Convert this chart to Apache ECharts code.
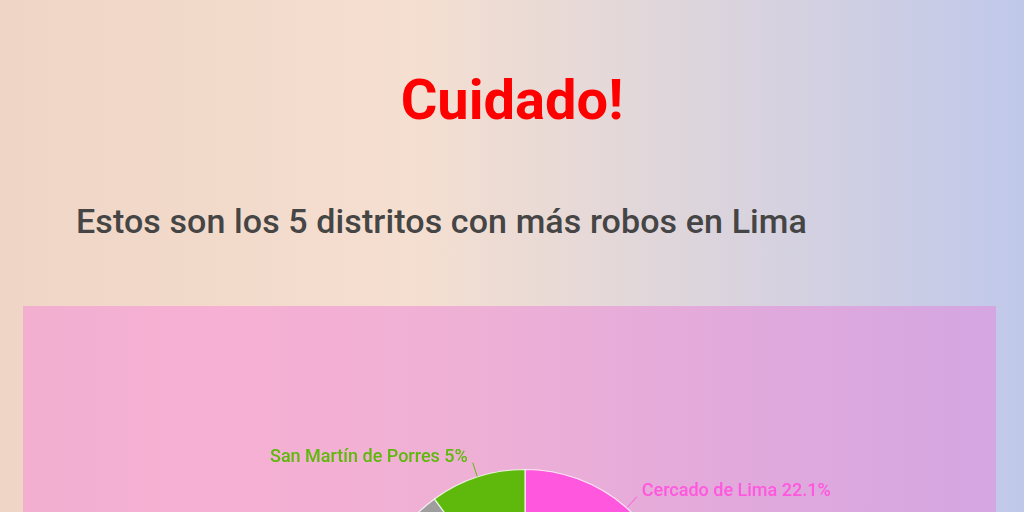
<!DOCTYPE html>
<html>
<head>
<meta charset="utf-8">
<script src="https://cdn.jsdelivr.net/npm/echarts@6/dist/echarts.min.js"></script>
<style>
  html, body { margin: 0; padding: 0; }
  body {
    width: 1024px;
    height: 820px;
    position: relative;
    overflow: hidden;
    font-family: Roboto, sans-serif;
    background: linear-gradient(90deg, #efd5c6 0%, #f5dfd0 40%, #ddd5dc 68%, #c0c8ea 100%);
  }
  h1 {
    position: absolute; left: 0; top: 64px; width: 1024px; margin: 0;
    text-align: center; color: #ff0000; font-size: 56px; font-weight: 700; line-height: 72px;
  }
  h2 {
    position: absolute; left: 76px; top: 198px; margin: 0;
    color: #454545; font-size: 34px; font-weight: 500; line-height: 46px; letter-spacing: 0.1px;
  }
  .chart-box {
    position: absolute; left: 23px; top: 306px; width: 973px; height: 500px;
    background: linear-gradient(90deg, #f2afd0 0%, #f6b0d3 20%, #efb0d5 45%, #e3aadb 70%, #d4a6e2 100%);
  }
  #pieChart { width: 973px; height: 500px; }
</style>
</head>
<body>
<h1>Cuidado!</h1>
<h2>Estos son los 5 distritos con más robos en Lima</h2>
<div class="chart-box"><div id="pieChart"></div></div>
<script>
const districts = ['Cercado de Lima', 'San Juan de Lurigancho', 'Ate', 'Comas', 'San Martín de Porres'];
const shareLabels = ['22.1%', '9.6%', '7.3%', '5.2%', '5%'];
const sliceValues = [23, 27, 25, 15, 10];
const sliceColors = ['#ff57dd', '#7a6cf0', '#ffb03a', '#9e9e9e', '#5fb90d'];

function renderRobosPie(el) {
  if (!el || !window.echarts) return null;
  const chart = echarts.init(el);
  chart.setOption({
    series: [{
      name: 'Robos',
      type: 'pie',
      radius: 154,
      center: [502, 317.5],
      startAngle: 90,
      data: districts.map((name, i) => ({
        name: name,
        value: sliceValues[i],
        itemStyle: { color: sliceColors[i] },
        label: { color: sliceColors[i] }
      })),
      itemStyle: { borderColor: 'rgba(255,255,255,0.8)', borderWidth: 1.2 },
      label: {
        fontFamily: 'Roboto',
        fontSize: 18,
        fontWeight: 500,
        formatter: params => '{t|' + params.name + ' ' + shareLabels[params.dataIndex] + '}\n{s|}',
        rich: {
          t: { fontFamily: 'Roboto', fontSize: 18, fontWeight: 500, lineHeight: 22 },
          s: { fontSize: 10, lineHeight: 11 }
        }
      },
      labelLine: { length: 15, length2: 0 }
    }]
  });
  return chart;
}

renderRobosPie(document.getElementById('pieChart'));
</script>
</body>
</html>
